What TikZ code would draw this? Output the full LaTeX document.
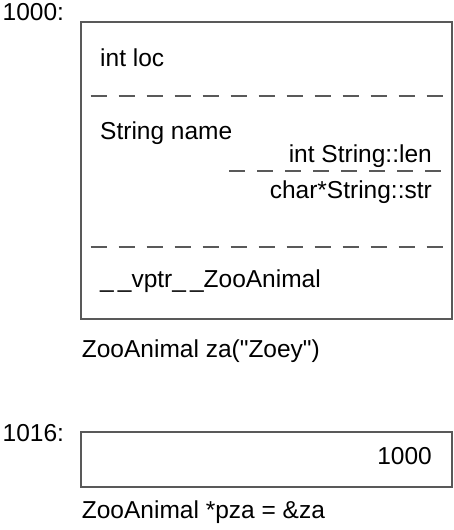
\documentclass[tikz,border=0pt]{standalone}
\usepackage{fontspec}
\setmainfont{Liberation Sans}[Ligatures=TeXOff]
\begin{document}
\begin{tikzpicture}[x=1pt,y=-1pt,
  lbl/.style={inner sep=0pt,font=\fontsize{24.5}{29}\selectfont},
  frame/.style={draw=black!65,line width=1.8pt},
  sep/.style={draw=black!65,line width=1.8pt,dash pattern=on 16pt off 12pt}]
\useasboundingbox (0,0) rectangle (454,530);
% addresses
\node[lbl,anchor=base west] (a1) at (2.5,20.5) {1000:};
\node[lbl,anchor=base west] (a2) at (2.5,441.5) {1016:};
% object box
\draw[frame] (80.7,21.7) rectangle (451.7,319.3);
\node[lbl,anchor=base west] (loc) at (100,66) {int loc};
\coordinate (d1s) at (90.7,96);
\coordinate (d1e) at (443,96);
\draw[sep] (d1s) -- (d1e);
\node[lbl,anchor=base west] (nm) at (100,139.5) {String name};
\node[lbl,anchor=base east] (len) at (432,162) {int String::len};
\coordinate (d2s) at (229,170.7);
\coordinate (d2e) at (443,170.7);
\draw[sep] (d2s) -- (d2e);
\node[lbl,anchor=base east] (str) at (432,198.5) {char*String::str};
\coordinate (d3s) at (90.7,246.7);
\coordinate (d3e) at (443,246.7);
\draw[sep] (d3s) -- (d3e);
\node[lbl,anchor=base west] (vp) at (100,287) {\_\,\_vptr\_\,\_ZooAnimal};
\node[lbl,anchor=base west] (za) at (81.7,357.5) {ZooAnimal za("Zoey")};
% pointer box
\draw[frame] (80.7,431.7) rectangle (451.7,486.7);
\node[lbl,anchor=base east] (val) at (432,464) {1000};
\node[lbl,anchor=base west] (pza) at (81.7,518.5) {ZooAnimal *pza = \&za};
\end{tikzpicture}
\end{document}
